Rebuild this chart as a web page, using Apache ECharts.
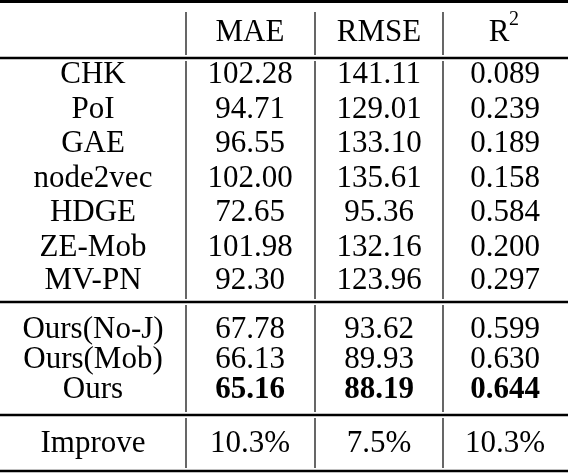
<!DOCTYPE html>
<html>
<head>
<meta charset="utf-8">
<script src="https://cdn.jsdelivr.net/npm/echarts@6/dist/echarts.min.js"></script>
<style>html,body{margin:0;padding:0;background:#fff}#main{width:568px;height:475px}</style>
</head>
<body>
<div id="main"></div>
<script>
const headers = ['', 'MAE', 'RMSE', 'R'];
const methods = ['CHK', 'PoI', 'GAE', 'node2vec', 'HDGE', 'ZE-Mob', 'MV-PN', 'Ours(No-J)', 'Ours(Mob)', 'Ours', 'Improve'];
const mae = ['102.28', '94.71', '96.55', '102.00', '72.65', '101.98', '92.30', '67.78', '66.13', '65.16', '10.3%'];
const rmse = ['141.11', '129.01', '133.10', '135.61', '95.36', '132.16', '123.96', '93.62', '89.93', '88.19', '7.5%'];
const r2 = ['0.089', '0.239', '0.189', '0.158', '0.584', '0.200', '0.297', '0.599', '0.630', '0.644', '10.3%'];
const boldRow = 9;

const rowY = [75, 109.5, 144, 178.5, 213, 247.5, 281, 330, 360, 390, 444];
const colX = [93, 250, 379, 505];
const vLines = [186, 315, 443];
const hLines = [[1.5, 3], [58, 2.5], [302, 2.5], [415, 2.5], [471, 2.5]];
const font = '"Liberation Serif", "Times New Roman", serif';

const els = [];
function txt(x, y, s, bold) {
  els.push({ type: 'text', x, y, style: { text: s, font: (bold ? 'bold ' : '') + '31px ' + font, fill: '#000', align: 'center', verticalAlign: 'middle' } });
}
hLines.forEach(([y, w]) => els.push({ type: 'line', shape: { x1: 0, y1: y, x2: 568, y2: y }, style: { stroke: '#000', lineWidth: w } }));
// vertical separators, broken at the thick rules
const segs = [[12, 55], [61, 299], [305, 412], [418, 468]];
vLines.forEach(x => segs.forEach(([a, b]) => els.push({ type: 'line', shape: { x1: x, y1: a, x2: x, y2: b }, style: { stroke: '#000', lineWidth: 1.2 } })));
headers.forEach((h, i) => { if (h) txt(colX[i] - (i === 3 ? 6 : 0), 33, h); });
els.push({ type: 'text', x: colX[3] + 4, y: 20, style: { text: '2', font: '20px ' + font, fill: '#000', align: 'left', verticalAlign: 'middle' } });
methods.forEach((m, i) => {
  txt(colX[0], rowY[i], m);
  txt(colX[1], rowY[i], mae[i], i === boldRow);
  txt(colX[2], rowY[i], rmse[i], i === boldRow);
  txt(colX[3], rowY[i], r2[i], i === boldRow);
});

const chart = echarts.init(document.getElementById('main'));
chart.setOption({ animation: false, graphic: { elements: els } });
</script>
</body>
</html>
